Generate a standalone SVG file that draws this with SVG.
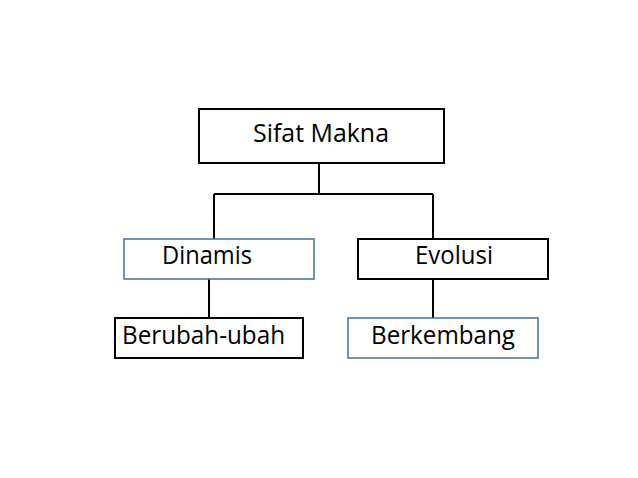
<svg xmlns="http://www.w3.org/2000/svg" width="638" height="478" viewBox="0 0 638 478">
<style>
.box{fill:#fff;stroke:#000;stroke-width:2}
.blue{fill:#fff;stroke:#41719C;stroke-width:1.5}
.t{font-family:"Open Sans","Liberation Sans",sans-serif;font-size:25px;fill:#000}
.c{fill:none;stroke:#000;stroke-width:2}
</style>
<rect width="638" height="478" fill="#fff"/>
<g id="connectors">
<path class="c" d="M319 163V194M214 194H433M214 194V239M433 194V239"/>
<path class="c" d="M209 279V318"/>
<path class="c" d="M433 279V318"/>
</g>
<g id="sifat-makna">
<rect class="box" x="199" y="109" width="245" height="54"/>
<text class="t" x="321" y="142" text-anchor="middle" textLength="136" lengthAdjust="spacingAndGlyphs">Sifat Makna</text>
</g>
<g id="dinamis">
<rect class="blue" x="124" y="239" width="190" height="40"/>
<text class="t" x="207" y="264" text-anchor="middle" textLength="90" lengthAdjust="spacingAndGlyphs">Dinamis</text>
</g>
<g id="evolusi">
<rect class="box" x="358" y="239" width="190" height="40"/>
<text class="t" x="454" y="264" text-anchor="middle" textLength="78" lengthAdjust="spacingAndGlyphs">Evolusi</text>
</g>
<g id="berubah-ubah">
<rect class="box" x="115" y="318" width="188" height="40"/>
<text class="t" x="122" y="344" textLength="163" lengthAdjust="spacingAndGlyphs">Berubah-ubah</text>
</g>
<g id="berkembang">
<rect class="blue" x="348" y="318" width="190" height="40"/>
<text class="t" x="443" y="344" text-anchor="middle" textLength="144" lengthAdjust="spacingAndGlyphs">Berkembang</text>
</g>
</svg>
